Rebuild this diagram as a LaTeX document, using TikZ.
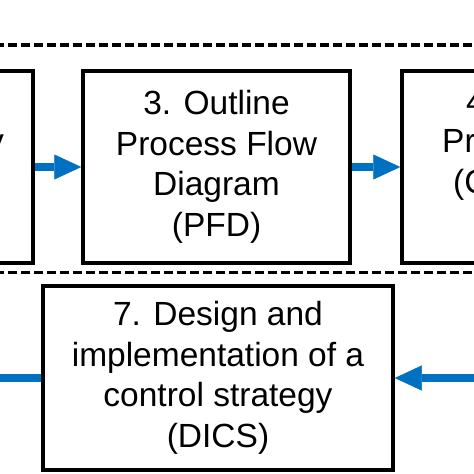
\documentclass[tikz,border=0pt]{standalone}
\usepackage{fontspec}
\setmainfont{Liberation Sans}
\usetikzlibrary{arrows.meta,positioning}
\definecolor{flowblue}{RGB}{0,112,192}

\begin{document}
\begin{tikzpicture}[x=1pt, y=-1pt,
                stepbox/.style={rectangle, draw, line width=3.5pt, align=center, minimum width=267pt, minimum height=192pt, font=\fontsize{33.5}{40.5}\selectfont},
                cut/.style={inner sep=0pt, font=\fontsize{33.5}{40.5}\selectfont},
                flow/.style={draw=flowblue, line width=8pt, -{Triangle[length=27pt, width=25pt, line width=0.5pt]}, flowblue},
                divider/.style={line width=3.5pt, dash pattern=on 9pt off 4pt}
            ]
                \clip (0,0) rectangle (474,474);

                \draw[divider] (-5,45) -- (480,45);
                \draw[divider] (-5,272.5) -- (480,272.5);

                \node[stepbox] (s2) at (-100.5, 167) {};
                \node[stepbox] (s3) at (216.5, 167) {3. Outline\\Process Flow\\Diagram\\(PFD)};
                \node[stepbox] (s4) at (535.5, 167) {};
                \node[stepbox, minimum width=350pt, minimum height=184pt] (s7) at (218, 378) {7. Design and\\implementation of a\\control strategy\\(DICS)};

                % text of the boxes cut off at the edges
                \node[cut, anchor=base east] (t2) at (4, 152) {y};
                \node[cut, anchor=base west] (t4a) at (466, 113) {4.};
                \node[cut, anchor=base west] (t4b) at (442, 152) {Pr};
                \node[cut, anchor=base west] (t4c) at (453, 193) {(C};

                \coordinate (in7) at (500, 378);
                \coordinate (out7) at (-60, 378);

                \draw[flow] (s2) -- (s3);
                \draw[flow] (s3) -- (s4);
                \draw[flow] (in7) -- (s7);
                \draw[flow] (s7) -- (out7);
            \end{tikzpicture}
\end{document}
